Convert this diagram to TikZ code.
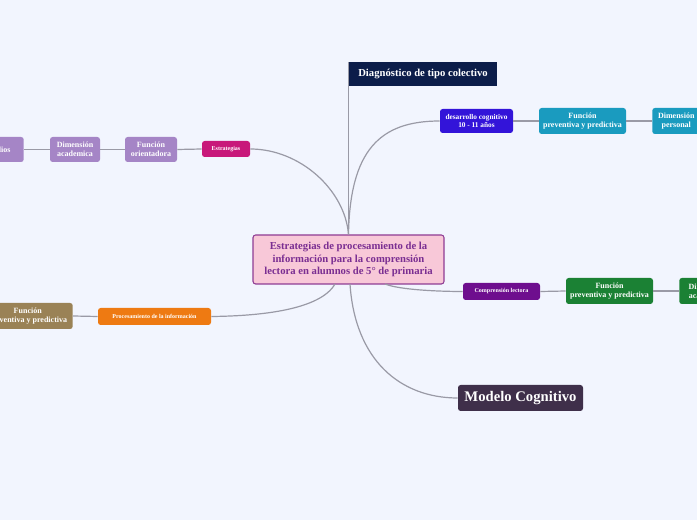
\documentclass[tikz,border=0pt]{standalone}
\usepackage{fontspec}
\setmainfont{Liberation Serif}
\definecolor{bg}{HTML}{F2F5FE}
\definecolor{teal1}{HTML}{1A9BBF}
\definecolor{lav}{HTML}{A585C6}
\definecolor{navy}{HTML}{0C1D4A}
\definecolor{blu}{HTML}{3314D9}
\definecolor{mag}{HTML}{C8187A}
\definecolor{org}{HTML}{EE7A12}
\definecolor{brn}{HTML}{9A8256}
\definecolor{pur}{HTML}{6E0E8E}
\definecolor{grn}{HTML}{1B8134}
\definecolor{plum}{HTML}{3F2F4A}
\definecolor{pk}{HTML}{F8C8D8}
\definecolor{pkb}{HTML}{8F3C94}
\definecolor{pkt}{HTML}{7A2E92}
\definecolor{ln}{HTML}{9A9AA6}
\begin{document}
\begin{tikzpicture}[x=0.75pt,y=-0.75pt,
 box/.style={rounded corners=2pt,text=white,font=\bfseries\fontsize{5.5}{6}\selectfont,align=center,inner sep=0pt},
 con/.style={draw=ln,line width=0.9pt}]
\fill[bg] (0,0) rectangle (697,520);
\clip (0,0) rectangle (697,520);
\useasboundingbox (0,0) rectangle (697,520);
\node[box,fill=pk,draw=pkb,line width=0.8pt,text=pkt,minimum width=191*0.75pt,minimum height=49*0.75pt,font=\bfseries\fontsize{8}{9.4}\selectfont] (c) at (348.5,259.5) {Estrategias de procesamiento de la\\información para la comprensión\\lectora en alumnos de 5° de primaria};
\node[box,rounded corners=0pt,fill=navy,minimum width=148*0.75pt,minimum height=24*0.75pt,font=\bfseries\fontsize{8}{9}\selectfont] (d) at (423,74) {Diagnóstico de tipo colectivo};
\node[box,fill=blu,minimum width=73*0.75pt,minimum height=24*0.75pt] (dc) at (476.5,121) {desarrollo cognitivo\\10 - 11 años};
\node[box,fill=teal1,minimum width=87*0.75pt,minimum height=26*0.75pt,font=\bfseries\fontsize{6}{7}\selectfont] (f1) at (582.5,121) {Función\\preventiva y predictiva};
\node[box,fill=teal1,minimum width=48*0.75pt,minimum height=26*0.75pt,font=\bfseries\fontsize{6}{7}\selectfont,anchor=west] (p1) at (652,121) {Dimensión\\personal};
\node[box,fill=mag,minimum width=48*0.75pt,minimum height=16*0.75pt,font=\bfseries\fontsize{4.5}{5}\selectfont] (e) at (226,149) {Estrategias};
\node[box,fill=lav,minimum width=52*0.75pt,minimum height=25*0.75pt,font=\bfseries\fontsize{6}{7}\selectfont] (fo) at (151,149.5) {Función\\orientadora};
\node[box,fill=lav,minimum width=50*0.75pt,minimum height=25*0.75pt,font=\bfseries\fontsize{6}{7}\selectfont] (da) at (75,149.5) {Dimensión\\academica};
\node[box,fill=lav,minimum width=50*0.75pt,minimum height=25*0.75pt,font=\bfseries\fontsize{6}{7}\selectfont,anchor=east] (m) at (24,149.5) {Medios\hspace{1pt}};
\node[box,fill=org,minimum width=113*0.75pt,minimum height=17*0.75pt,font=\bfseries\fontsize{4.5}{5}\selectfont] (pr) at (154.5,316.5) {Procesamiento de la información};
\node[box,fill=brn,minimum width=90*0.75pt,minimum height=26*0.75pt,font=\bfseries\fontsize{6}{7}\selectfont,anchor=east] (fb) at (73,316) {Función\\preventiva y predictiva};
\node[box,fill=pur,minimum width=77*0.75pt,minimum height=17*0.75pt,font=\bfseries\fontsize{4.5}{5}\selectfont] (cl) at (501.5,291.5) {Comprensión lectora};
\node[box,fill=grn,minimum width=87*0.75pt,minimum height=26*0.75pt,font=\bfseries\fontsize{6}{7}\selectfont] (fg) at (609.5,291) {Función\\preventiva y predictiva};
\node[box,fill=grn,minimum width=50*0.75pt,minimum height=26*0.75pt,font=\bfseries\fontsize{6}{7}\selectfont,anchor=west] (ag) at (679,291) {\hspace{4pt}Dimensión\\\hspace{4pt}academica};
\node[box,fill=plum,minimum width=125*0.75pt,minimum height=26*0.75pt,font=\bfseries\fontsize{11}{12}\selectfont] (mc) at (520.5,398) {Modelo Cognitivo};
\draw[con] ([yshift=-0.4pt]d.north west) -- (d.south west |- c.north);
\draw[con] (c.north) .. controls (350,150) and (380,121) .. (dc.west);
\draw[con] (c.north) .. controls (345,190) and (300,149) .. (e.east);
\draw[con] (dc.east) -- (f1.west);
\draw[con] (f1.east) -- (p1.west);
\draw[con] (e.west) -- (fo.east);
\draw[con] (fo.west) -- (da.east);
\draw[con] (da.west) -- (m.east);
\draw[con] (335,284) .. controls (320,310) and (260,316) .. (pr.east);
\draw[con] (pr.west) -- (fb.east);
\draw[con] (385,284) .. controls (400,290) and (440,291.5) .. (cl.west);
\draw[con] (cl.east) -- (fg.west);
\draw[con] (fg.east) -- (ag.west);
\draw[con] (350,284) .. controls (355,360) and (400,398) .. (mc.west);
\end{tikzpicture}
\end{document}
